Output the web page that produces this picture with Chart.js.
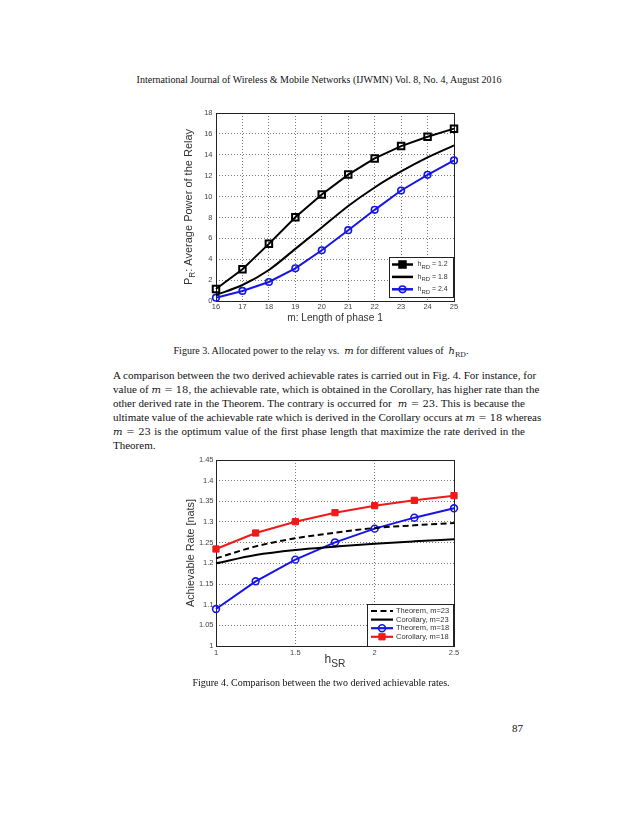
<!DOCTYPE html>
<html>
<head>
<meta charset="utf-8">
<script src="https://cdn.jsdelivr.net/npm/chart.js@4.4.1/dist/chart.umd.min.js"></script>
<style>
  html, body { margin: 0; padding: 0; background: #fff; }
  body { width: 638px; height: 826px; position: relative; overflow: hidden;
         font-family: 'Liberation Serif', 'Times New Roman', serif; color: #111; }
  .t { position: absolute; white-space: nowrap; line-height: 14px; }
  .c { left: 0; width: 638px; text-align: center; }
  .p { position: absolute; left: 113px; width: 412px; font-size: 11px; line-height: 14px;
       text-align: justify; text-align-last: justify; white-space: nowrap; }
  .p.last { text-align-last: left; }
  .m { font-family: 'DejaVu Serif', serif; font-size: 10px; }
  canvas { position: absolute; display: block; }
</style>
</head>
<body>
<div class="t c" style="top:73px;font-size:10px">International Journal of Wireless &amp; Mobile Networks (IJWMN) Vol. 8, No. 4, August 2016</div>

<canvas id="powerChart" width="320" height="232" style="left:160px;top:100px"></canvas>

<div class="t c" style="top:344px;font-size:10px;left:2px">Figure 3. Allocated power to the relay vs. &nbsp;<span class="m"><i>m</i></span> for different values of &nbsp;<span class="m"><i>h</i><sub style="font-size:7px">RD</sub></span>.</div>

<div class="p" style="top:368px">A comparison between the two derived achievable rates is carried out in Fig. 4. For instance, for</div>
<div class="p" style="top:382px">value of <span class="m"><i>m</i> = 18</span>, the achievable rate, which is obtained in the Corollary, has higher rate than the</div>
<div class="p" style="top:396px">other derived rate in the Theorem. The contrary is occurred for &nbsp;<span class="m"><i>m</i> = 23</span>. This is because the</div>
<div class="p" style="top:410px">ultimate value of the achievable rate which is derived in the Corollary occurs at <span class="m"><i>m</i> = 18</span> whereas</div>
<div class="p" style="top:424px"><span class="m"><i>m</i> = 23</span> is the optimum value of the first phase length that maximize the rate derived in the</div>
<div class="p last" style="top:438px">Theorem.</div>

<canvas id="rateChart" width="320" height="232" style="left:160px;top:450px"></canvas>

<div class="t c" style="top:676px;font-size:10px;left:2px">Figure 4. Comparison between the two derived achievable rates.</div>
<div class="t" style="top:721px;left:512px;font-size:11px">87</div>

<script>
// Figure 3 data
const mValues = [16, 17, 18, 19, 20, 21, 22, 23, 24, 25];
const powerH12 = [1.15, 3.04, 5.47, 8.02, 10.2, 12.1, 13.65, 14.83, 15.73, 16.5];
const powerH18 = [0.58, 1.53, 2.97, 4.99, 7.03, 9.1, 10.87, 12.4, 13.75, 14.9];
const powerH24 = [0.32, 0.96, 1.82, 3.13, 4.86, 6.78, 8.73, 10.58, 12.08, 13.46];
const powerLegend = ["h_{RD} = 1.2", "h_{RD} = 1.8", "h_{RD} = 2.4"];
const mTicks = [16, 17, 18, 19, 20, 21, 22, 23, 24, 25];
const powerTicks = [0, 2, 4, 6, 8, 10, 12, 14, 16, 18];

// Figure 4 data
const hSR = [1, 1.25, 1.5, 1.75, 2, 2.25, 2.5];
const theorem23 = [1.212, 1.241, 1.2605, 1.2742, 1.2855, 1.292, 1.2976];
const corollary23 = [1.2, 1.2202, 1.2323, 1.2403, 1.2476, 1.2532, 1.258];
const theorem18 = [1.0895, 1.1565, 1.2089, 1.2508, 1.2839, 1.3105, 1.3331];
const corollary18 = [1.2347, 1.2734, 1.3008, 1.3226, 1.3395, 1.3524, 1.3637];
const rateLegend = ["Theorem, m=23", "Corollary, m=23", "Theorem, m=18", "Corollary, m=18"];
const hTicks = [1, 1.5, 2, 2.5];
const rateTicks = [1, 1.05, 1.1, 1.15, 1.2, 1.25, 1.3, 1.35, 1.4, 1.45];

const SANS = "'Liberation Sans', Arial, sans-serif";
const BLUE = "#1515e6";
const RED = "#f01818";

// split "P_{R}: text" into normal / subscript parts
function richParts(s) {
  const out = [];
  const re = /_\{([^}]*)\}/g;
  let last = 0, m;
  while ((m = re.exec(s))) {
    if (m.index > last) out.push([s.slice(last, m.index), false]);
    out.push([m[1], true]);
    last = re.lastIndex;
  }
  if (last < s.length) out.push([s.slice(last), false]);
  return out;
}

function drawRich(ctx, s, x, y, size, align, subScale) {
  const parts = richParts(s);
  const sc = subScale || 0.75;
  const font = (sub) => (sub ? size * sc : size) + "px " + SANS;
  let w = 0;
  parts.forEach(([t, sub]) => { ctx.font = font(sub); w += ctx.measureText(t).width; });
  let cx = align === "center" ? x - w / 2 : x;
  ctx.textAlign = "left";
  ctx.textBaseline = "middle";
  parts.forEach(([t, sub]) => {
    ctx.font = font(sub);
    ctx.fillText(t, cx, sub ? y + size * 0.38 : y);
    cx += ctx.measureText(t).width;
  });
}

// box around the plot, matlab style
const framePlugin = {
  id: "frame",
  beforeDatasetsDraw(chart) {
    const { ctx, chartArea: a } = chart;
    ctx.save();
    ctx.strokeStyle = "#222";
    ctx.lineWidth = 1;
    ctx.strokeRect(Math.round(a.left) + 0.5, Math.round(a.top) + 0.5,
      Math.round(a.right - a.left), Math.round(a.bottom - a.top));
    ctx.restore();
  },
};

// axis titles with subscripts
const titlesPlugin = {
  id: "titles",
  afterDraw(chart, args, opts) {
    const { ctx, chartArea: a } = chart;
    ctx.save();
    ctx.fillStyle = "#333";
    const cx = (a.left + a.right) / 2;
    const cy = (a.top + a.bottom) / 2;
    drawRich(ctx, opts.x.text, cx + (opts.x.dx || 0), a.bottom + opts.x.dy, opts.x.size, "center", opts.x.sub);
    ctx.translate(opts.y.x, cy + (opts.y.dy || 0));
    ctx.rotate(-Math.PI / 2);
    drawRich(ctx, opts.y.text, 0, 0, opts.y.size, "center", opts.y.sub);
    ctx.restore();
  },
};

// legend box inside the plot area
const boxLegendPlugin = {
  id: "boxLegend",
  afterDraw(chart, args, o) {
    const { ctx } = chart;
    ctx.save();
    ctx.fillStyle = "#fff";
    ctx.fillRect(o.x, o.y, o.w, o.h);
    ctx.strokeStyle = "#222";
    ctx.lineWidth = 1;
    ctx.strokeRect(o.x + 0.5, o.y + 0.5, o.w, o.h);
    chart.data.datasets.forEach((ds, i) => {
      const y = o.rowY + i * o.rowGap;
      const mx = (o.x0 + o.x1) / 2;
      ctx.strokeStyle = ds.borderColor;
      ctx.lineWidth = o.lineWidth;
      ctx.setLineDash(ds.borderDash || []);
      ctx.beginPath();
      ctx.moveTo(o.x0, y);
      ctx.lineTo(o.x1, y);
      ctx.stroke();
      ctx.setLineDash([]);
      if (ds.pointRadius > 0) {
        ctx.fillStyle = o.fillMarkers ? ds.borderColor : ds.pointBackgroundColor;
        ctx.strokeStyle = ds.borderColor;
        ctx.lineWidth = ds.pointBorderWidth;
        ctx.beginPath();
        if (ds.pointStyle === "rect") {
          const s = ds.pointRadius * Math.SQRT1_2;
          ctx.rect(mx - s, y - s, 2 * s, 2 * s);
        } else {
          ctx.arc(mx, y, ds.pointRadius, 0, Math.PI * 2);
        }
        if (ds.pointStyle === "rect") ctx.fill();
        ctx.stroke();
      }
      ctx.fillStyle = "#333";
      drawRich(ctx, o.labels[i], o.textX, y, o.size, "left", o.sub || 0.8);
    });
    ctx.restore();
  },
};

function axis(min, max, ticks, fixed, pad) {
  return {
    type: "linear",
    min: min,
    max: max,
    afterBuildTicks: (s) => { s.ticks = ticks.map((v) => ({ value: v })); },
    afterFit: fixed,
    grid: { color: "#7a7a7a", lineWidth: 1, drawTicks: false },
    border: { display: false, dash: [1, 2] },
    ticks: {
      color: "#444",
      padding: pad,
      font: { family: SANS, size: 7.5 },
      maxRotation: 0,
      autoSkip: false,
      callback: (v) => String(v),
    },
  };
}

const pts = (xs, ys) => xs.map((x, i) => ({ x: x, y: ys[i] }));

// Figure 3
new Chart(document.getElementById("powerChart"), {
  type: "line",
  data: {
    datasets: [
      { label: powerLegend[0], data: pts(mValues, powerH12), borderColor: "#000", borderWidth: 2,
        pointStyle: "rect", pointRadius: 4.6, pointBorderWidth: 2, pointBackgroundColor: "rgba(0,0,0,0)", clip: false },
      { label: powerLegend[1], data: pts(mValues, powerH18), borderColor: "#000", borderWidth: 2,
        pointRadius: 0, cubicInterpolationMode: "monotone", clip: false },
      { label: powerLegend[2], data: pts(mValues, powerH24), borderColor: BLUE, borderWidth: 2,
        pointStyle: "circle", pointRadius: 3.3, pointBorderWidth: 1.6, pointBackgroundColor: "rgba(0,0,0,0)", clip: false },
    ],
  },
  options: {
    responsive: false,
    animation: false,
    events: [],
    layout: { padding: { top: 13, right: 26, left: 0, bottom: 0 } },
    scales: {
      x: axis(16, 25, mTicks, (s) => { s.height = 31; }, 1.5),
      y: axis(0, 18, powerTicks, (s) => { s.width = 56; }, 3.5),
    },
    plugins: {
      legend: { display: false },
      tooltip: { enabled: false },
      titles: {
        x: { text: "m: Length of phase 1", dy: 17, size: 10.2 },
        y: { text: "P_{R}: Average Power of the Relay", x: 29, size: 11, sub: 0.75 },
      },
      boxLegend: {
        x: 229, y: 157, w: 64, h: 40, rowY: 164.5, rowGap: 12.4, fillMarkers: true,
        x0: 232, x1: 253, textX: 257.5, size: 7, sub: 0.85, lineWidth: 2.5, labels: powerLegend,
      },
    },
  },
  plugins: [framePlugin, titlesPlugin, boxLegendPlugin],
});

// Figure 4
new Chart(document.getElementById("rateChart"), {
  type: "line",
  data: {
    datasets: [
      { label: rateLegend[0], data: pts(hSR, theorem23), borderColor: "#000", borderWidth: 2,
        borderDash: [6, 3.5], pointRadius: 0, cubicInterpolationMode: "monotone", clip: false },
      { label: rateLegend[1], data: pts(hSR, corollary23), borderColor: "#000", borderWidth: 2,
        pointRadius: 0, cubicInterpolationMode: "monotone", clip: false },
      { label: rateLegend[2], data: pts(hSR, theorem18), borderColor: BLUE, borderWidth: 2,
        pointStyle: "circle", pointRadius: 3.4, pointBorderWidth: 1.6, pointBackgroundColor: "rgba(0,0,0,0)", clip: false },
      { label: rateLegend[3], data: pts(hSR, corollary18), borderColor: RED, borderWidth: 2,
        pointStyle: "rect", pointRadius: 4.4, pointBorderWidth: 1, pointBackgroundColor: RED, clip: false },
    ],
  },
  options: {
    responsive: false,
    animation: false,
    events: [],
    layout: { padding: { top: 10, right: 26, left: 0, bottom: 0 } },
    scales: {
      x: axis(1, 2.5, hTicks, (s) => { s.height = 36; }, 2.2),
      y: axis(1, 1.45, rateTicks, (s) => { s.width = 56; }, 2.5),
    },
    plugins: {
      legend: { display: false },
      tooltip: { enabled: false },
      titles: {
        x: { text: "h_{SR}", dy: 14, size: 12, sub: 0.85 },
        y: { text: "Achievable Rate [nats]", x: 31, size: 10.8 },
      },
      boxLegend: {
        x: 207, y: 154, w: 86, h: 42, rowY: 161, rowGap: 8.6,
        x0: 211, x1: 233, textX: 236, size: 7.5, lineWidth: 2.2, labels: rateLegend,
      },
    },
  },
  plugins: [framePlugin, titlesPlugin, boxLegendPlugin],
});
</script>
</body>
</html>
